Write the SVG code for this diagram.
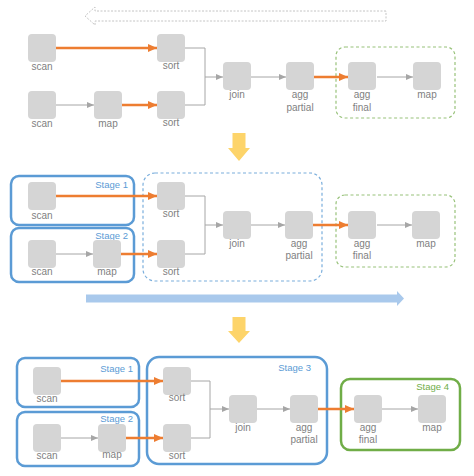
<svg xmlns="http://www.w3.org/2000/svg" width="474" height="476" viewBox="0 0 474 476">
<defs>
<style>
.n rect{fill:#d5d5d5}
.n text,.lb{font-family:"Liberation Sans",Arial,sans-serif;font-size:10px;fill:#7f7f7f;text-anchor:middle}
.st{font-family:"Liberation Sans",Arial,sans-serif;font-size:9.5px;text-anchor:end}
.sb{fill:#5b9bd5}
.sg{fill:#70ad47}
.o{stroke:#ed7d31;stroke-width:2.5;fill:none;marker-end:url(#ho)}
.g{stroke:#a6a6a6;stroke-width:1;fill:none}
.ga{stroke:#a6a6a6;stroke-width:1;fill:none;marker-end:url(#hg)}
.bs{fill:none;stroke:#5b9bd5;stroke-width:2.5}
.gs{fill:none;stroke:#70ad47;stroke-width:2.5}
.bd{fill:none;stroke:#7aaedc;stroke-width:1.2;stroke-dasharray:3 2.5}
.gd{fill:none;stroke:#98c27a;stroke-width:1.2;stroke-dasharray:3 2.5}
</style>
<marker id="ho" markerUnits="userSpaceOnUse" markerWidth="10" markerHeight="10" refX="9" refY="4" orient="auto" viewBox="0 0 10 8"><path d="M0,0 L9,4 L0,8 Z" fill="#ed7d31"/></marker>
<marker id="hg" markerUnits="userSpaceOnUse" markerWidth="8" markerHeight="8" refX="7" refY="3" orient="auto" viewBox="0 0 8 6"><path d="M0,0 L7,3 L0,6 Z" fill="#a6a6a6"/></marker>
</defs>

<!-- decorative arrows -->
<polygon points="386,11 95,11 95,7 85,16 95,25 95,21 386,21 Z" fill="none" stroke="#c4c4c4" stroke-width="1" stroke-dasharray="2 1.5"/>
<polygon points="232.5,133 245.5,133 245.5,148 250,148 239,161 228,148 232.5,148 Z" fill="#fdd46a"/>
<polygon points="232.5,317 245.5,317 245.5,331 250,331 239,343 228,331 232.5,331 Z" fill="#fdd46a"/>
<polygon points="86,294.5 397,294.5 397,291 404,298.5 397,306 397,302.5 86,302.5 Z" fill="#a9c9ec"/>

<!-- group boxes -->
<g id="groups">
<rect class="gd" x="336" y="47" width="119" height="71" rx="9"/>
<rect class="bs" x="11" y="176" width="123" height="49" rx="8"/>
<text class="st sb" x="128" y="188">Stage 1</text>
<rect class="bs" x="11" y="228" width="123" height="54" rx="8"/>
<text class="st sb" x="128" y="239">Stage 2</text>
<rect class="bd" x="143" y="173" width="179" height="108" rx="12"/>
<rect class="gd" x="336" y="195" width="119" height="72" rx="9"/>
<rect class="bs" x="17" y="358" width="122" height="49" rx="8"/>
<text class="st sb" x="133" y="372">Stage 1</text>
<rect class="bs" x="17" y="412" width="122" height="54" rx="8"/>
<text class="st sb" x="133" y="422">Stage 2</text>
<rect class="bs" x="147" y="357" width="180" height="107" rx="12"/>
<text class="st sb" x="311" y="371">Stage 3</text>
<rect class="gs" x="341" y="379" width="119" height="71" rx="9"/>
<text class="st sg" x="449" y="390">Stage 4</text>
</g>

<!-- connectors -->
<g id="connectors">
<line class="o" x1="56" y1="48" x2="157" y2="48"/>
<line class="ga" x1="56" y1="105" x2="94" y2="105"/>
<line class="o" x1="122" y1="105" x2="157" y2="105"/>
<polyline class="g" points="185,48 205,48 205,105 185,105"/>
<line class="ga" x1="205" y1="77" x2="223" y2="77"/>
<line class="ga" x1="251" y1="77" x2="286" y2="77"/>
<line class="o" x1="314" y1="77" x2="348" y2="77"/>
<line class="ga" x1="377" y1="77" x2="413" y2="77"/>

<line class="o" x1="56" y1="196" x2="157" y2="196"/>
<line class="ga" x1="56" y1="254" x2="93" y2="254"/>
<line class="o" x1="121" y1="254" x2="157" y2="254"/>
<polyline class="g" points="185,196 205,196 205,254 185,254"/>
<line class="ga" x1="205" y1="225" x2="223" y2="225"/>
<line class="ga" x1="251" y1="225" x2="285" y2="225"/>
<line class="o" x1="313" y1="225" x2="348" y2="225"/>
<line class="ga" x1="377" y1="225" x2="412" y2="225"/>

<line class="o" x1="61" y1="381" x2="163" y2="381"/>
<line class="ga" x1="61" y1="438" x2="98" y2="438"/>
<line class="o" x1="126" y1="438" x2="163" y2="438"/>
<polyline class="g" points="191,381 210,381 210,438 191,438"/>
<line class="ga" x1="210" y1="409" x2="229" y2="409"/>
<line class="ga" x1="257" y1="409" x2="290" y2="409"/>
<line class="o" x1="318" y1="409" x2="354" y2="409"/>
<line class="ga" x1="382" y1="409" x2="418" y2="409"/>
</g>

<!-- section 1 nodes -->
<g id="s1-scan1" class="n"><rect x="28" y="34" width="28" height="28" rx="4"/><text x="42" y="70">scan</text></g>
<g id="s1-sort1" class="n"><rect x="157" y="34" width="28" height="28" rx="4"/><text x="171" y="69">sort</text></g>
<g id="s1-scan2" class="n"><rect x="28" y="91" width="28" height="28" rx="4"/><text x="42" y="127">scan</text></g>
<g id="s1-map1" class="n"><rect x="94" y="91" width="28" height="28" rx="4"/><text x="108" y="127">map</text></g>
<g id="s1-sort2" class="n"><rect x="157" y="91" width="28" height="28" rx="4"/><text x="171" y="126">sort</text></g>
<g id="s1-join" class="n"><rect x="223" y="62" width="28" height="28" rx="4"/><text x="237" y="98">join</text></g>
<g id="s1-aggp" class="n"><rect x="286" y="62" width="28" height="28" rx="4"/><text x="300" y="98">agg</text><text x="300" y="111">partial</text></g>
<g id="s1-aggf" class="n"><rect x="348" y="62" width="28" height="28" rx="4"/><text x="362" y="98">agg</text><text x="362" y="111">final</text></g>
<g id="s1-map2" class="n"><rect x="413" y="62" width="28" height="28" rx="4"/><text x="427" y="98">map</text></g>

<!-- section 2 nodes -->
<g id="s2-scan1" class="n"><rect x="28" y="182" width="28" height="28" rx="4"/><text x="42" y="219">scan</text></g>
<g id="s2-sort1" class="n"><rect x="157" y="182" width="28" height="28" rx="4"/><text x="171" y="217">sort</text></g>
<g id="s2-scan2" class="n"><rect x="28" y="240" width="28" height="28" rx="4"/><text x="42" y="275">scan</text></g>
<g id="s2-map1" class="n"><rect x="93" y="240" width="28" height="28" rx="4"/><text x="107" y="275">map</text></g>
<g id="s2-sort2" class="n"><rect x="157" y="240" width="28" height="28" rx="4"/><text x="171" y="275">sort</text></g>
<g id="s2-join" class="n"><rect x="223" y="211" width="28" height="28" rx="4"/><text x="237" y="247">join</text></g>
<g id="s2-aggp" class="n"><rect x="285" y="211" width="28" height="28" rx="4"/><text x="299" y="247">agg</text><text x="299" y="259">partial</text></g>
<g id="s2-aggf" class="n"><rect x="348" y="211" width="28" height="28" rx="4"/><text x="362" y="247">agg</text><text x="362" y="259">final</text></g>
<g id="s2-map2" class="n"><rect x="412" y="211" width="28" height="28" rx="4"/><text x="426" y="247">map</text></g>

<!-- section 3 nodes -->
<g id="s3-scan1" class="n"><rect x="33" y="367" width="28" height="28" rx="4"/><text x="47" y="402">scan</text></g>
<g id="s3-sort1" class="n"><rect x="163" y="367" width="28" height="28" rx="4"/><text x="177" y="401">sort</text></g>
<g id="s3-scan2" class="n"><rect x="33" y="424" width="28" height="28" rx="4"/><text x="47" y="459">scan</text></g>
<g id="s3-map1" class="n"><rect x="98" y="424" width="28" height="28" rx="4"/><text x="112" y="458">map</text></g>
<g id="s3-sort2" class="n"><rect x="163" y="424" width="28" height="28" rx="4"/><text x="177" y="459">sort</text></g>
<g id="s3-join" class="n"><rect x="229" y="395" width="28" height="28" rx="4"/><text x="243" y="431">join</text></g>
<g id="s3-aggp" class="n"><rect x="290" y="395" width="28" height="28" rx="4"/><text x="304" y="431">agg</text><text x="304" y="443">partial</text></g>
<g id="s3-aggf" class="n"><rect x="354" y="395" width="28" height="28" rx="4"/><text x="368" y="431">agg</text><text x="368" y="443">final</text></g>
<g id="s3-map2" class="n"><rect x="418" y="395" width="28" height="28" rx="4"/><text x="432" y="431">map</text></g>
</svg>
